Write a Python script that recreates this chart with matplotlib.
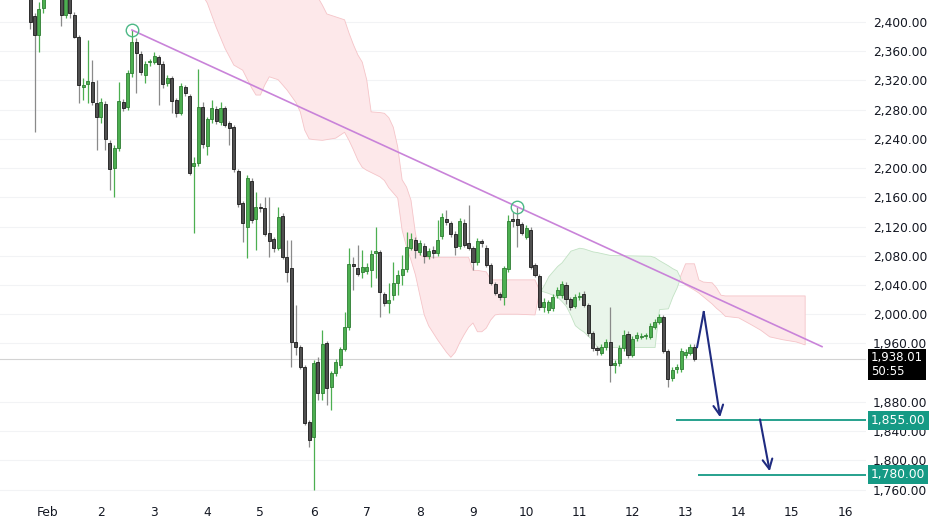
import matplotlib.pyplot as plt
import matplotlib.transforms as mtransforms
import numpy as np

# 2h candles, index 0 = first bar on screen
opens = [
    2436, 2408, 2382, 2419, 2440, 2455, 2448, 2440, 2410, 2436,
    2410, 2379, 2311, 2315, 2318, 2289, 2270, 2288, 2234, 2200,
    2228, 2290, 2284, 2330, 2373, 2356, 2327, 2345, 2345, 2352,
    2343, 2316, 2323, 2293, 2275, 2311, 2299, 2203, 2207, 2284,
    2230, 2267, 2281, 2263, 2282, 2262, 2256, 2196, 2152, 2119,
    2182, 2130, 2147, 2145, 2111, 2103, 2091, 2134, 2078, 2063,
    1962, 1955, 1928, 1852, 1832, 1935, 1892, 1961, 1900, 1919,
    1930, 1952, 1982, 2069, 2063, 2058, 2059, 2060, 2084, 2085,
    2028, 2015, 2026, 2043, 2054, 2062, 2091, 2102, 2085, 2093,
    2080, 2088, 2084, 2107, 2130, 2125, 2110, 2093, 2125, 2097,
    2091, 2071, 2100, 2091, 2067, 2041, 2028, 2024, 2062, 2130,
    2130, 2123, 2106, 2115, 2067, 2052, 2010, 2006, 2008, 2026,
    2026, 2040, 2021, 2011, 2024, 2028, 2013, 1974, 1954, 1947,
    1955, 1962, 1930, 1933, 1954, 1973, 1944, 1967, 1969, 1970,
    1969, 1982, 1989, 1996, 1950, 1913, 1925, 1925, 1944, 1947,
    1955,
]
highs = [
    2445, 2412, 2428, 2448, 2462, 2466, 2458, 2448, 2445, 2442,
    2414, 2382, 2324, 2375, 2348, 2321, 2296, 2292, 2238, 2232,
    2318, 2295, 2334, 2389, 2378, 2360, 2347, 2350, 2359, 2355,
    2346, 2328, 2326, 2296, 2316, 2314, 2302, 2215, 2336, 2290,
    2270, 2293, 2285, 2290, 2285, 2264, 2259, 2199, 2155, 2190,
    2186, 2167, 2152, 2160, 2160, 2106, 2147, 2138, 2102, 2102,
    2013, 1958, 1930, 1855, 1937, 1941, 1978, 1964, 1922, 1938,
    1955, 2003, 2091, 2078, 2095, 2088, 2070, 2088, 2119, 2088,
    2030, 2043, 2071, 2060, 2081, 2113, 2111, 2106, 2101, 2097,
    2091, 2093, 2129, 2138, 2142, 2128, 2114, 2132, 2130, 2150,
    2094, 2104, 2103, 2095, 2070, 2044, 2030, 2066, 2136, 2140,
    2147, 2126, 2122, 2119, 2070, 2055, 2022, 2020, 2028, 2037,
    2045, 2044, 2024, 2028, 2030, 2032, 2015, 1977, 1957, 1959,
    1966, 2010, 1937, 1958, 1978, 1977, 1970, 1976, 1974, 1974,
    1988, 1993, 2000, 1999, 1953, 1928, 1932, 1954, 1952, 1959,
    1959,
]
lows = [
    2390, 2249, 2359, 2412, 2434, 2438, 2433, 2395, 2405, 2406,
    2378, 2289, 2293, 2289, 2287, 2225, 2262, 2225, 2170, 2160,
    2224, 2278, 2280, 2325, 2303, 2328, 2316, 2340, 2342, 2286,
    2310, 2312, 2275, 2270, 2272, 2299, 2190, 2111, 2203, 2228,
    2218, 2262, 2260, 2259, 2256, 2232, 2195, 2147, 2099, 2077,
    2125, 2088, 2140, 2107, 2078, 2085, 2088, 2075, 2044, 1928,
    1944, 1925, 1848, 1818, 1759, 1883, 1883, 1876, 1869, 1915,
    1927, 1950, 1978, 2033, 2052, 2050, 2055, 2037, 2050, 1996,
    2011, 2001, 2019, 2026, 2040, 2058, 2088, 2077, 2081, 2070,
    2075, 2077, 2080, 2103, 2122, 2106, 2081, 2089, 2092, 2088,
    2060, 2068, 2092, 2064, 2040, 2026, 2020, 2013, 2058, 2120,
    2092, 2108, 2103, 2062, 2051, 2006, 2003, 2001, 2005, 2022,
    2022, 2014, 2006, 2008, 2020, 2010, 1970, 1950, 1944, 1944,
    1951, 1907, 1919, 1929, 1950, 1940, 1941, 1963, 1966, 1966,
    1966, 1980, 1987, 1947, 1900, 1908, 1920, 1921, 1940, 1944,
    1936,
]
closes = [
    2400, 2382, 2418, 2440, 2455, 2448, 2442, 2410, 2436, 2412,
    2379, 2314, 2314, 2319, 2290, 2270, 2290, 2240, 2199, 2228,
    2292, 2282, 2330, 2373, 2358, 2332, 2343, 2347, 2353, 2343,
    2315, 2323, 2292, 2275, 2312, 2303, 2193, 2207, 2284, 2233,
    2267, 2282, 2264, 2282, 2259, 2255, 2199, 2151, 2125, 2186,
    2129, 2147, 2146, 2110, 2100, 2091, 2133, 2078, 2058, 1962,
    1955, 1928, 1851, 1828, 1933, 1892, 1959, 1899, 1919, 1935,
    1952, 1982, 2069, 2066, 2055, 2065, 2065, 2082, 2086, 2030,
    2015, 2019, 2043, 2054, 2062, 2092, 2103, 2088, 2097, 2080,
    2087, 2084, 2102, 2133, 2126, 2110, 2092, 2128, 2095, 2091,
    2071, 2100, 2097, 2067, 2043, 2029, 2024, 2063, 2128, 2128,
    2122, 2111, 2118, 2065, 2054, 2010, 2017, 2017, 2024, 2033,
    2041, 2021, 2010, 2024, 2025, 2013, 1974, 1954, 1951, 1955,
    1962, 1930, 1933, 1954, 1971, 1944, 1966, 1971, 1970, 1971,
    1984, 1989, 1996, 1950, 1911, 1924, 1928, 1950, 1948, 1955,
    1938.01,
]

# ichimoku cloud (shifted 26 bars ahead)
cloud_idx = [36, 38, 40, 42, 44, 46, 48, 50, 51, 52, 53, 54, 56, 58, 60, 61, 62, 63, 64, 66,
             67, 69, 71, 72, 73, 74, 75, 76, 77, 79, 80, 81, 82, 83, 84, 85, 86, 87, 88, 89,
             90, 92, 94, 95, 96, 97, 98, 99, 100, 101, 102, 103, 104, 105, 106, 110, 114, 115, 116, 117,
             119, 120, 121, 122, 123, 124, 125, 126, 127, 128, 131, 140, 141, 142, 144, 145, 146, 147, 148, 150,
             151, 152, 154, 155, 156, 157, 160, 163, 165, 167, 170, 173, 175]
span_a = [2485, 2446, 2426, 2393, 2364, 2341, 2334, 2310, 2300, 2300, 2314, 2325, 2321, 2307, 2290, 2277, 2252, 2240, 2239, 2238,
          2239, 2241, 2249, 2238, 2225, 2211, 2201, 2197, 2194, 2188, 2183, 2173, 2166, 2159, 2115, 2092, 2074, 2054, 2026, 1999,
          1984, 1965, 1948, 1941, 1948, 1961, 1972, 1982, 1988, 1976, 1976, 1981, 1992, 1999, 2000, 2000, 1999, 2030, 2040, 2052,
          2066, 2071, 2079, 2087, 2089, 2091, 2090, 2088, 2086, 2085, 2081, 2080, 2078, 2074, 2067, 2063, 2060, 2047, 2040, 2033,
          2029, 2024, 2014, 2008, 2003, 1997, 1995, 1985, 1978, 1969, 1965, 1962, 1958]
span_b = [2500, 2500, 2500, 2500, 2500, 2500, 2500, 2500, 2500, 2500, 2500, 2500, 2500, 2500, 2500, 2490, 2470, 2455, 2444, 2423,
          2411, 2407, 2403, 2385, 2369, 2355, 2345, 2321, 2277, 2276, 2275, 2269, 2256, 2229, 2184, 2174, 2156, 2111, 2081, 2078,
          2078, 2078, 2078, 2078, 2078, 2078, 2078, 2078, 2060, 2060, 2059, 2058, 2047, 2047, 2047, 2047, 2047, 2033, 2031, 2029,
          2024, 2018, 2011, 1999, 1985, 1980, 1976, 1970, 1965, 1955, 1955, 1955, 1955, 2007, 2008, 2024, 2037, 2054, 2069, 2069,
          2047, 2044, 2043, 2036, 2026, 2025, 2025, 2025, 2025, 2025, 2025, 2025, 2025]

day_labels = ["Feb", "2", "3", "4", "5", "6", "7", "8", "9", "10", "11", "12", "13", "14", "15", "16"]
price_ticks = [1760, 1800, 1840, 1880, 1960, 2000, 2040, 2080, 2120, 2160, 2200,
               2240, 2280, 2320, 2360, 2400]
pivots = [23, 110]
last_price = 1938.01
targets = [1855, 1780]
target_start = [145.8, 150.8]
path1_x = [150.6, 152.1, 155.8]
path1_y = [1955, 2003, 1859]
path2_x = [164.8, 167.0]
path2_y = [1856, 1785]

plt.rcParams['font.family'] = ['Liberation Sans Narrow', 'DejaVu Sans']

fig = plt.figure(figsize=(9.32, 5.24), dpi=100)
ax = fig.add_axes([0, 0.0496, 0.929, 0.9504])
x_min, x_max = -6.8, 188.7
ax.set_xlim(x_min, x_max)
ax.set_ylim(1748.4, 2430.1)

for v in price_ticks:
    ax.axhline(v, color="#f2f3f5", lw=0.8, zorder=0)

# cloud
ci = np.array(cloud_idx, dtype=float)
sa = np.array(span_a, dtype=float)
sb = np.array(span_b, dtype=float)
ax.fill_between(ci, sa, sb, where=sb >= sa, interpolate=True,
                facecolor="#fde8ea", edgecolor="#f5c4c8", linewidth=0.6, zorder=1)
ax.fill_between(ci, sa, sb, where=sa >= sb, interpolate=True,
                facecolor="#e9f5ea", edgecolor="#c2e2c4", linewidth=0.6, zorder=1)

ax.axhline(last_price, color="#d3d3d3", lw=0.8, zorder=1.5)

# candles
o = np.array(opens, dtype=float)
c = np.array(closes, dtype=float)
h = np.maximum(np.array(highs, dtype=float), np.maximum(o, c))
l = np.minimum(np.array(lows, dtype=float), np.minimum(o, c))
idx = np.arange(len(o))
up = c >= o
body = c - o
body = np.where(np.abs(body) < 1.5, np.where(up, 1.5, -1.5), body)
ax.vlines(idx, l, h, colors=np.where(up, "#4caf50", "#8a8a8a"), lw=0.9, zorder=3)
ax.bar(idx, body, bottom=o, width=0.68,
       color=np.where(up, "#4caf50", "#505050"),
       edgecolor=np.where(up, "#2e7d32", "#1a1a1a"), linewidth=0.6, zorder=4)

# trendline through the two pivot highs
px = np.array(pivots, dtype=float)
py = h[pivots]
slope = (py[1] - py[0]) / (px[1] - px[0])
tx = np.array([px[0], 178.8])
ax.plot(tx, py[0] + slope * (tx - px[0]), color="#c983d9", lw=1.2, zorder=5)
ax.plot(px, py, "o", mfc="none", mec="#4cb886", ms=9, mew=1.0, zorder=6)

# targets
teal = "#159a85"
for t, s in zip(targets, target_start):
    ax.hlines(t, s, x_max, color=teal, lw=1.3, zorder=5)

navy = "#1f2b80"
ax.plot(path1_x[:2], path1_y[:2], color=navy, lw=1.5, zorder=6)
ax.annotate("", xy=(path1_x[2], path1_y[2]), xytext=(path1_x[1], path1_y[1]),
            arrowprops=dict(arrowstyle="->,head_length=0.7,head_width=0.35",
                            color=navy, lw=1.5, shrinkA=0, shrinkB=0), zorder=6)
ax.annotate("", xy=(path2_x[1], path2_y[1]), xytext=(path2_x[0], path2_y[0]),
            arrowprops=dict(arrowstyle="->,head_length=0.7,head_width=0.35",
                            color=navy, lw=1.5, shrinkA=0, shrinkB=0), zorder=6)

# axes
ax.yaxis.tick_right()
ax.set_yticks(price_ticks)
ax.set_yticklabels([f"{v:,.2f}" for v in price_ticks])
ax.set_xticks([4 + 12 * k for k in range(len(day_labels))])
ax.set_xticklabels(day_labels)
ax.tick_params(axis="y", length=0, pad=5, labelsize=8.8, labelcolor="#131722")
ax.tick_params(axis="x", length=0, pad=6, labelsize=8.8, labelcolor="#131722")
for sp in ax.spines.values():
    sp.set_visible(False)

trans = mtransforms.blended_transform_factory(ax.transAxes, ax.transData)
for t in targets:
    ax.text(1.006, t, f"{t:,.2f}", transform=trans, va="center", ha="left",
            fontsize=8.8, color="white", zorder=10,
            bbox=dict(boxstyle="square,pad=0.25", fc=teal, ec="none"))
ax.text(1.006, last_price - 7, f"{last_price:,.2f}\n50:55", transform=trans,
        va="center", ha="left", fontsize=8.5, color="white", linespacing=1.05, zorder=10,
        bbox=dict(boxstyle="square,pad=0.22", fc="black", ec="none"))

fig.savefig("out.png", dpi=100)
